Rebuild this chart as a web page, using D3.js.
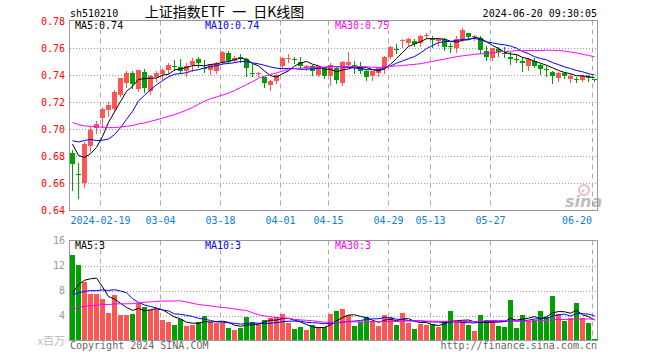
<!DOCTYPE html>
<html>
<head>
<meta charset="utf-8">
<script src="https://cdn.jsdelivr.net/npm/d3@7"></script>
<style>
body{margin:0;background:#fff}
svg{display:block}
text{font-family:"DejaVu Sans Mono",monospace;font-size:10px}
</style>
</head>
<body>
<svg width="660" height="360"></svg>
<script>
// trading days, 2024-02-02 .. 2024-06-20
const dates = ['02-02','02-05','02-06','02-07','02-08','02-19','02-20','02-21','02-22','02-23',
  '02-26','02-27','02-28','02-29','03-01','03-04','03-05','03-06','03-07','03-08',
  '03-11','03-12','03-13','03-14','03-15','03-18','03-19','03-20','03-21','03-22',
  '03-25','03-26','03-27','03-28','03-29','04-01','04-02','04-03','04-08','04-09',
  '04-10','04-11','04-12','04-15','04-16','04-17','04-18','04-19','04-22','04-23',
  '04-24','04-25','04-26','04-29','04-30','05-06','05-07','05-08','05-09','05-10',
  '05-13','05-14','05-15','05-16','05-17','05-20','05-21','05-22','05-23','05-24',
  '05-27','05-28','05-29','05-30','05-31','06-03','06-04','06-05','06-06','06-07',
  '06-11','06-12','06-13','06-14','06-17','06-18','06-19','06-20']

const opens = [.6825,.667,.660,.6874,.7006,.7087,.7139,.7149,.7252,.7341,
  .7415,.7299,.7426,.728,.7385,.7409,.7439,.7469,.7459,.7434,
  .7475,.7518,.7453,.7439,.743,.749,.7562,.7508,.7532,.7518,
  .7418,.7413,.7385,.7327,.7358,.7464,.7523,.752,.7496,.7451,
  .7469,.7402,.7451,.739,.7451,.7345,.7476,.7472,.7459,.7427,
  .739,.7415,.7451,.7537,.7592,.7655,.7636,.7653,.7636,.7694,
  .7667,.7653,.7667,.7618,.760,.7667,.7709,.768,.7672,.7577,
  .753,.7592,.7564,.7535,.752,.7506,.7471,.7506,.7476,.7446,
  .7422,.7382,.7419,.7372,.7372,.7365,.7388,.7368]
const highs = [.685,.675,.6903,.702,.7058,.7164,.7198,.729,.738,.7434,
  .743,.7439,.7446,.7403,.7434,.745,.7493,.7513,.7518,.749,
  .7525,.7532,.751,.7485,.750,.758,.7577,.754,.7555,.7525,
  .7481,.7426,.7388,.7362,.7405,.7533,.7557,.7537,.7537,.7476,
  .7476,.7466,.7455,.7488,.746,.7505,.7574,.7507,.7495,.7435,
  .743,.746,.7545,.7615,.763,.767,.7675,.7665,.770,.7712,
  .769,.767,.7675,.764,.7687,.7745,.7714,.770,.7686,.7614,
  .760,.7611,.7606,.7574,.755,.7532,.7525,.7525,.7485,.7466,
  .7432,.7425,.7425,.7405,.7385,.740,.7402,.737]
const lows = [.655,.649,.6577,.684,.6972,.702,.7095,.714,.7245,.7316,
  .7304,.728,.7272,.7262,.736,.737,.7415,.7439,.7415,.739,
  .743,.7462,.7425,.741,.7415,.748,.7495,.750,.750,.739,
  .739,.739,.7316,.7292,.734,.7454,.750,.7488,.7451,.7439,
  .7402,.7395,.738,.7328,.734,.7328,.7466,.7415,.7415,.7365,
  .7365,.7395,.7415,.7525,.7566,.7611,.762,.7615,.7615,.7675,
  .761,.7615,.7586,.7574,.7574,.7655,.7665,.766,.7562,.7513,
  .7513,.7542,.7532,.7483,.7496,.7434,.7439,.7459,.741,.739,
  .734,.736,.7378,.7353,.7353,.7355,.736,.736]
const closes = [.6745,.666,.6894,.6992,.7039,.7149,.7181,.7277,.738,.7415,
  .7333,.7439,.7304,.7397,.7419,.7439,.7473,.7466,.7432,.7471,
  .7505,.7488,.7449,.7481,.749,.757,.7505,.753,.7528,.7451,
  .7414,.7417,.7341,.7358,.7402,.753,.7527,.7516,.7471,.7464,
  .7427,.7464,.739,.7476,.7365,.750,.750,.7468,.7427,.7385,
  .7427,.7451,.7537,.7606,.7586,.766,.7667,.763,.7692,.7697,
  .7663,.7667,.761,.7614,.7665,.7734,.7684,.7692,.7586,.7537,
  .7599,.757,.756,.7518,.7516,.7491,.7518,.7471,.7444,.7442,
  .7397,.7419,.7397,.7397,.7368,.7395,.7385,.7365]
// volume, millions
const volumes = [13.65,12.06,9.37,7.41,7.41,6.61,4.39,7.30,4.08,4.08,
  4.23,5.98,5.40,4.87,5.08,3.33,3.02,2.49,3.44,2.38,
  2.54,2.91,3.97,2.96,2.80,2.80,2.01,1.69,2.06,3.76,
  2.96,2.70,3.28,3.60,3.76,4.23,2.80,1.90,2.12,1.69,
  2.43,2.12,2.12,4.23,4.76,5.08,4.13,2.38,2.96,3.70,
  3.07,2.38,4.13,3.70,2.54,4.39,2.80,1.90,2.70,2.54,
  2.65,2.22,3.07,4.76,3.07,3.07,2.43,1.59,4.08,3.33,
  3.28,2.38,2.12,6.51,2.01,4.08,3.17,3.33,4.76,3.70,
  7.14,4.23,3.17,3.60,5.98,3.60,2.80,0.30]

// 29 sessions before the first candle, only feed the moving averages
const priorCloses = [.7139,.7152,.7100,.7139,.7237,.7289,.7257,.7269,.7237,.7176,
  .7073,.7088,.7049,.7071,.7061,.7071,.7090,.6970,.6941,.6938,
  .6752,.6787,.6909,.7120,.7130,.7085,.6960,.6860,.6805]
const priorVolumes = [3.6,4.2,3.9,4.5,4.8,3.7,4.1,3.8,4.0,3.4,
  2.6,2.3,2.8,2.4,2.2,2.7,2.5,2.3,8.1,9.1,
  8.8,7.2,6.0,7.5,5.45,5.3,6.0,6.2,6.9]

const tickDates = ['02-19','03-04','03-18','04-01','04-15','04-29','05-13','05-27','06-20']
const tickLabels = ['2024-02-19','03-04','03-18','04-01','04-15','04-29','05-13','05-27','06-20']
const priceTicks = [0.78,0.76,0.74,0.72,0.70,0.68,0.66,0.64]
const volTicks = [16,12,8,4]

const red = '#ff5555', green = '#00a000'
const maColors = {5:'#000', 10:'#0000ff', 30:'#ff00ff'}

const svg = d3.select('svg')
const left = 70, right = 597

var x = d3.scaleBand()
    .domain(dates)
    .range([left, right])
    .paddingInner(1/6)
    .paddingOuter(0)
var cx = d => x(d) + 2.5

var y = d3.scaleLinear().domain([0.64, 0.78]).range([210.5, 21])
var yv = d3.scaleLinear().domain([0, 16]).range([340.5, 240.5])

var movingAvg = (n, prior, cur) => {
    let all = prior.concat(cur)
    return cur.map((v, i) => d3.mean(all.slice(prior.length + i - n + 1, prior.length + i + 1)))
}

var candles = dates.map((d, i) => ({date: d, o: opens[i], h: highs[i], l: lows[i], c: closes[i], v: volumes[i]}))
var colorOf = d => d.c >= d.o ? red : green

//grid
var grid = svg.append('g')
grid.selectAll('.hgrid')
    .data(priceTicks.slice(1, -1))
    .enter().append('line')
    .attr('x1', left).attr('x2', right)
    .attr('y1', d => Math.round(y(d)) + 0.5).attr('y2', d => Math.round(y(d)) + 0.5)
    .attr('stroke', '#999').attr('stroke-dasharray', '1,2')
grid.selectAll('.vgrid')
    .data(volTicks.slice(1))
    .enter().append('line')
    .attr('x1', left).attr('x2', right)
    .attr('y1', d => Math.round(yv(d)) + 0.5).attr('y2', d => Math.round(yv(d)) + 0.5)
    .attr('stroke', '#999').attr('stroke-dasharray', '1,2')
;[[20.5, 210.5], [240.5, 340.5]].forEach(([t, b]) => {
    grid.selectAll(null)
        .data(tickDates)
        .enter().append('line')
        .attr('x1', d => x(d) + 0.5).attr('x2', d => x(d) + 0.5)
        .attr('y1', t).attr('y2', b)
        .attr('stroke', '#aaa').attr('stroke-dasharray', '5,4')
})

//watermark
var wm = svg.append('g').attr('opacity', 0.55)
wm.append('circle').attr('cx', 584).attr('cy', 190).attr('r', 5)
    .attr('fill', 'none').attr('stroke', '#f08080').attr('stroke-width', 2)
wm.append('circle').attr('cx', 583).attr('cy', 191).attr('r', 1.5).attr('fill', '#999')
wm.append('text').text('sina')
    .attr('x', 565).attr('y', 207)
    .style('font-family', 'DejaVu Sans').style('font-size', '16px')
    .style('font-weight', 'bold').style('font-style', 'italic')
    .attr('fill', '#888')

//candles
var cg = svg.append('g')
cg.selectAll('.wick')
    .data(candles)
    .enter().append('line')
    .attr('x1', d => cx(d.date)).attr('x2', d => cx(d.date))
    .attr('y1', d => Math.round(y(d.h))).attr('y2', d => Math.round(y(d.l)) + 1)
    .attr('stroke', colorOf)
cg.selectAll('.body')
    .data(candles)
    .enter().append('rect')
    .attr('x', d => x(d.date))
    .attr('width', x.bandwidth())
    .attr('y', d => Math.round(y(Math.max(d.o, d.c))))
    .attr('height', d => Math.max(1, Math.round(y(Math.min(d.o, d.c))) - Math.round(y(Math.max(d.o, d.c)))))
    .attr('fill', colorOf)

//volume bars
svg.append('g').selectAll('rect')
    .data(candles)
    .enter().append('rect')
    .attr('x', d => x(d.date))
    .attr('width', x.bandwidth())
    .attr('y', d => Math.round(yv(d.v)))
    .attr('height', d => 340 - Math.round(yv(d.v)))
    .attr('fill', colorOf)

//moving averages
var priceMA = {}, volMA = {}
;[5, 10, 30].forEach(n => {
    priceMA[n] = movingAvg(n, priorCloses, closes)
    volMA[n] = movingAvg(n, priorVolumes, volumes)
    svg.append('path')
        .datum(priceMA[n])
        .attr('fill', 'none').attr('stroke', maColors[n]).attr('stroke-width', 1)
        .attr('d', d3.line().x((v, i) => cx(dates[i])).y(v => y(v)))
    svg.append('path')
        .datum(volMA[n])
        .attr('fill', 'none').attr('stroke', maColors[n]).attr('stroke-width', 1)
        .attr('d', d3.line().x((v, i) => cx(dates[i])).y(v => yv(v)))
})

//frames
svg.append('rect').attr('x', 69.5).attr('y', 20.5).attr('width', 528).attr('height', 190)
    .attr('fill', 'none').attr('stroke', '#999')
svg.append('rect').attr('x', 69.5).attr('y', 240.5).attr('width', 528).attr('height', 100)
    .attr('fill', 'none').attr('stroke', '#999')

//axes
svg.append('g')
    .attr('transform', `translate(${left},0)`)
    .call(d3.axisLeft(y).tickValues(priceTicks).tickSize(0).tickPadding(5).tickFormat(d3.format('.2f')))
    .call(g => g.select('.domain').remove())
    .call(g => g.selectAll('text').attr('fill', '#f00').style('font-size', '10px').style('font-family', '"DejaVu Sans Mono",monospace'))
svg.append('g')
    .attr('transform', `translate(${left},0)`)
    .call(d3.axisLeft(yv).tickValues(volTicks).tickSize(0).tickPadding(5))
    .call(g => g.select('.domain').remove())
    .call(g => g.selectAll('text').attr('fill', '#999').style('font-size', '10px').style('font-family', '"DejaVu Sans Mono",monospace'))

svg.append('g').selectAll('text')
    .data(tickDates)
    .enter().append('text')
    .text((d, i) => tickLabels[i])
    .attr('x', (d, i) => i === tickDates.length - 1 ? x(d) : x(d) + 0.5)
    .attr('y', 224)
    .attr('text-anchor', (d, i) => i === tickDates.length - 1 ? 'end' : 'middle')
    .attr('fill', '#0a7fd8')

//titles
svg.append('text').text('sh510210').attr('x', 70).attr('y', 16.5).attr('fill', '#000')
svg.append('text').text('上证指数ETF 一 日K线图')
    .attr('x', 224.5).attr('y', 17)
    .attr('text-anchor', 'middle')
    .style('font-family', '"Noto Sans CJK SC"').style('font-size', '14px')
    .style('word-spacing', '4px')
svg.append('text').text('2024-06-20 09:30:05')
    .attr('x', 597).attr('y', 16.5).attr('text-anchor', 'end')

//legends
var last = a => a[a.length - 1]
var legend = [[5, 75], [10, 205], [30, 335]]
legend.forEach(([n, lx]) => {
    svg.append('text').text(`MA${n}:${last(priceMA[n]).toFixed(2)}`)
        .attr('x', lx).attr('y', 29).attr('fill', maColors[n])
    svg.append('text').text(`MA${n}:${Math.floor(last(volMA[n]))}`)
        .attr('x', lx).attr('y', 249).attr('fill', maColors[n])
})

svg.append('text').text('x百万')
    .attr('x', 65).attr('y', 345).attr('text-anchor', 'end')
    .attr('fill', '#bbb').style('font-family', '"Noto Sans CJK SC"').style('font-size', '11px')
svg.append('text').text('Copyright 2024 SINA.COM')
    .attr('x', 70).attr('y', 349).attr('fill', '#666')
svg.append('text').text('http://finance.sina.com.cn')
    .attr('x', 597).attr('y', 349).attr('text-anchor', 'end').attr('fill', '#666')
</script>
</body>
</html>
